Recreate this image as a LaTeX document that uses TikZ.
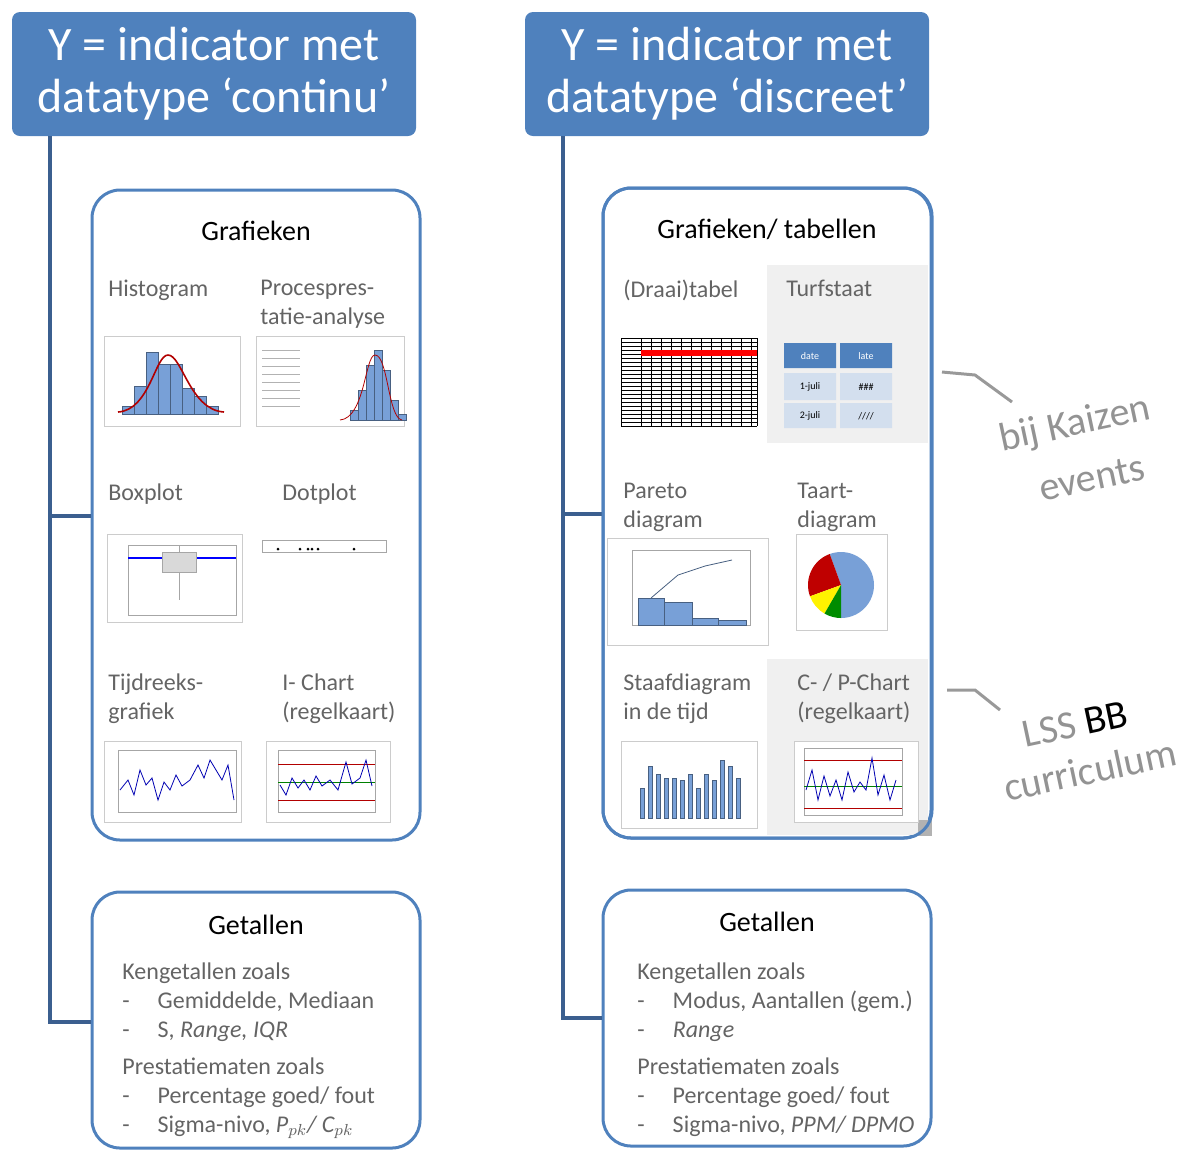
\documentclass[tikz,border=0pt]{standalone}
\usepackage{fontspec}
\setmainfont{Carlito}
\begin{document}
\begin{tikzpicture}[x=0.5pt,y=-0.5pt,
  title/.style={fill=tb,rounded corners=4pt,text=white,font=\fontsize{24}{26}\selectfont,align=center,inner sep=0},
  box/.style={draw=tb,line width=1.5pt,rounded corners=14pt},
  trunk/.style={draw=tl,line width=2pt},
  head/.style={font=\fontsize{14}{16}\selectfont,anchor=center},
  lab/.style={font=\fontsize{12}{14.5}\selectfont,text=tg,anchor=north west,align=left,inner sep=0},
  num/.style={lab,font=\fontsize{12}{14.5}\selectfont},
  thumb/.style={draw=gray!40,fill=white,line width=0.3pt},
  bar/.style={fill=bb,draw=bb!60!black,line width=0.2pt},
  note/.style={font=\fontsize{20}{21}\selectfont,text=gray!85,rotate=12,inner sep=0}]
\definecolor{tb}{RGB}{79,129,189}
\definecolor{tl}{RGB}{59,95,143}
\definecolor{tg}{RGB}{100,100,100}
\definecolor{bb}{RGB}{120,160,215}
\useasboundingbox (0,0) rectangle (1187,1153);
% titles
\node[title,minimum width=202pt,minimum height=62pt] (t1) at (214,74) {Y = indicator met\\datatype ‘continu’};
\node[title,minimum width=202pt,minimum height=62pt] (t2) at (727,74) {Y = indicator met\\datatype ‘discreet’};
% boxes
\node[box,minimum width=164pt,minimum height=325pt] (g1) at (256,515) {};
\node[box,minimum width=164pt,minimum height=128pt] (n1) at (256,1020) {};
\node[box,minimum width=164pt,minimum height=325pt] (g2) at (767,513) {};
\node[box,minimum width=164pt,minimum height=128pt] (n2) at (767,1018) {};
% trunks
\coordinate (a1) at (50,136); \coordinate (b1) at (50,516); \coordinate (c1) at (50,1022);
\draw[trunk] (a1) -- (c1) -- (n1.west|-c1); \draw[trunk] (b1) -- (g1.west|-b1);
\coordinate (a2) at (563,136); \coordinate (b2) at (563,514); \coordinate (c2) at (563,1018);
\draw[trunk] (a2) -- (c2) -- (n2.west|-c2); \draw[trunk] (b2) -- (g2.west|-b2);
% grey panels
\fill[gray!12] (767,265) rectangle (928,443);
\fill[gray!12] (767,659) rectangle (928,835);
\fill[gray!60] (918,820) rectangle (932,836);
\draw[box] (603,188) rectangle (932,838);
% headings
\node[head] at (256,231) {Grafieken};
\node[head] at (767,229) {Grafieken/ tabellen};
\node[head] at (256,925) {Getallen};
\node[head] at (767,922) {Getallen};
% left labels
\node[lab] at (108,280) {Histogram};
\node[lab] at (260,280) {Procespres-\\tatie-analyse};
\node[lab] at (108,483) {Boxplot};
\node[lab] at (282,483) {Dotplot};
\node[lab] at (108,673) {Tijdreeks-\\grafiek};
\node[lab] at (282,673) {I- Chart\\(regelkaart)};
% right labels
\node[lab] at (623,280) {(Draai)tabel};
\node[lab] at (786,280) {Turfstaat};
\node[lab] at (623,483) {Pareto\\diagram};
\node[lab] at (797,483) {Taart-\\diagram};
\node[lab] at (623,673) {Staafdiagram\\in de tijd};
\node[lab] at (797,673) {C- / P-Chart\\(regelkaart)};
% getallen text
\node[num] at (122,962) {Kengetallen zoals\\-\hspace{14pt}Gemiddelde, Mediaan\\-\hspace{14pt}S, \textit{Range, IQR}};
\node[num] at (122,1057) {Prestatiematen zoals\\-\hspace{14pt}Percentage goed/ fout\\-\hspace{14pt}Sigma-nivo, \textit{P$_{pk}$/ C$_{pk}$}};
\node[num] at (637,962) {Kengetallen zoals\\-\hspace{14pt}Modus, Aantallen (gem.)\\-\hspace{14pt}\textit{Range}};
\node[num] at (637,1057) {Prestatiematen zoals\\-\hspace{14pt}Percentage goed/ fout\\-\hspace{14pt}Sigma-nivo, \textit{PPM/ DPMO}};
% ---- thumbnails ----
\draw[thumb] (104,336) rectangle (240,426);
\foreach \x/\h in {122/8,134/28,146/62,158/50,170/50,182/26,194/18,206/8}
  \draw[bar] (\x,414) rectangle ++(12,-\h);
\draw[red!70!black,thick] (118,412) .. controls (150,410) and (155,355) .. (168,355) .. controls (182,355) and (190,410) .. (224,412);
\draw[thumb] (256,336) rectangle (404,426);
\foreach \y in {350,358,366,374,382,390,398,406} \draw[gray!60] (262,\y) -- (300,\y);
\foreach \x/\h in {350/10,358/30,366/55,374/70,382/50,390/20,398/6}
  \draw[bar] (\x,440-\h-20) rectangle ++(8,\h-0);
\draw[red!70!black] (340,420) .. controls (365,418) and (365,355) .. (375,355) .. controls (388,355) and (388,418) .. (402,420);
\draw[thumb] (107,534) rectangle (242,622);
\draw[gray!70] (128,545) rectangle (236,615);
\draw[blue,thick] (128,558) -- (236,558);
\draw[gray!70,fill=gray!30] (162,552) rectangle (196,572);
\draw[gray!70] (179,545) -- (179,552) (179,572) -- (179,600);
\draw[gray!70] (262,540) rectangle (386,552);
\foreach \x in {278,300,308,312,318,354} \fill (\x,549) circle (1.5);
\draw[thumb] (104,741) rectangle (241,822);
\draw[gray!70] (118,750) rectangle (236,812);
\draw[blue!70!black] (120,790) -- (128,780) -- (134,795) -- (140,770) -- (146,785) -- (152,778) -- (158,800) -- (164,782) -- (170,790) -- (176,775) -- (182,786) -- (190,780) -- (198,765) -- (204,778) -- (210,760) -- (216,770) -- (222,780) -- (228,765) -- (234,800);
\draw[thumb] (266,741) rectangle (390,822);
\draw[gray!70] (278,750) rectangle (375,812);
\draw[red!70!black] (278,764) -- (375,764) (278,800) -- (375,800);
\draw[green!50!black] (278,782) -- (375,782);
\draw[blue!70!black] (280,785) -- (286,795) -- (292,778) -- (298,788) -- (304,780) -- (310,790) -- (316,776) -- (322,786) -- (330,780) -- (338,790) -- (346,762) -- (352,784) -- (360,778) -- (366,760) -- (372,786);
\foreach \y in {338,342,...,426} \draw[black,line width=0.2pt] (621,\y) -- (757,\y);
\foreach \x in {621,641,651,661,671,681,691,701,711,721,731,741,751,757} \draw[black,line width=0.2pt] (\x,338) -- (\x,426);
\fill[red] (641,350) rectangle (757,356);
\fill[tb] (784,343) rectangle (836,368) (840,343) rectangle (892,368);
\node[text=white,font=\fontsize{5}{6}\selectfont] at (810,356) {date};
\node[text=white,font=\fontsize{5}{6}\selectfont] at (866,356) {late};
\fill[tb!25] (784,373) rectangle (836,400) (840,373) rectangle (892,400) (784,403) rectangle (836,428) (840,403) rectangle (892,428);
\node[font=\fontsize{5}{6}\selectfont] at (810,387) {1-juli};
\node[font=\fontsize{5}{6}\selectfont] at (866,387) {\#\#\#};
\node[font=\fontsize{5}{6}\selectfont] at (810,416) {2-juli};
\node[font=\fontsize{5}{6}\selectfont] at (866,416) {////};
\draw[thumb] (607,538) rectangle (768,645);
\draw[gray!70] (632,550) rectangle (750,625);
\draw[bar] (638,625) rectangle (664,598) (664,625) rectangle (692,602) (692,625) rectangle (718,618) (718,625) rectangle (746,620);
\draw[bb!60!black] (651,598) -- (678,575) -- (705,566) -- (732,560);
\draw[thumb] (796,534) rectangle (887,630);
\fill[bb] (841,585) -- ++(90:33) arc (90:-110:33) -- cycle;
\fill[red!75!black] (841,585) -- ++(-110:33) arc (-110:-200:33) -- cycle;
\fill[yellow] (841,585) -- ++(-200:33) arc (-200:-240:33) -- cycle;
\fill[green!55!black] (841,585) -- ++(-240:33) arc (-240:-270:33) -- cycle;
\draw[thumb] (621,741) rectangle (757,828);
\foreach \x/\h in {640/30,648/52,656/44,664/40,672/40,680/38,688/44,696/30,704/44,712/38,720/58,728/52,736/40}
  \draw[bar] (\x,818) rectangle ++(4,-\h);
\draw[thumb] (794,741) rectangle (918,822);
\draw[gray!70] (804,748) rectangle (902,815);
\draw[red!70!black] (804,760) -- (902,760) (804,808) -- (902,808);
\draw[green!50!black] (804,786) -- (902,786);
\draw[blue!70!black] (806,790) -- (812,770) -- (818,800) -- (824,776) -- (830,796) -- (836,780) -- (842,800) -- (848,772) -- (854,792) -- (860,782) -- (866,790) -- (872,758) -- (878,795) -- (884,775) -- (890,800) -- (896,780);
% annotations
\coordinate (k1) at (942,372); \coordinate (k2) at (975,375); \coordinate (k3) at (1012,402);
\draw[gray!80,line width=1.5pt] (k1) -- (k2) -- (k3);
\node[note] (kz1) at (1075,425) {bij Kaizen};
\node[note] (kz2) at (1092,478) {events};
\coordinate (l1) at (947,690); \coordinate (l2) at (975,690); \coordinate (l3) at (1000,710);
\draw[gray!80,line width=1.5pt] (l1) -- (l2) -- (l3);
\node[note] (ls1) at (1075,724) {LSS \textcolor{black}{BB}};
\node[note] (ls2) at (1090,770) {curriculum};
\end{tikzpicture}
\end{document}
